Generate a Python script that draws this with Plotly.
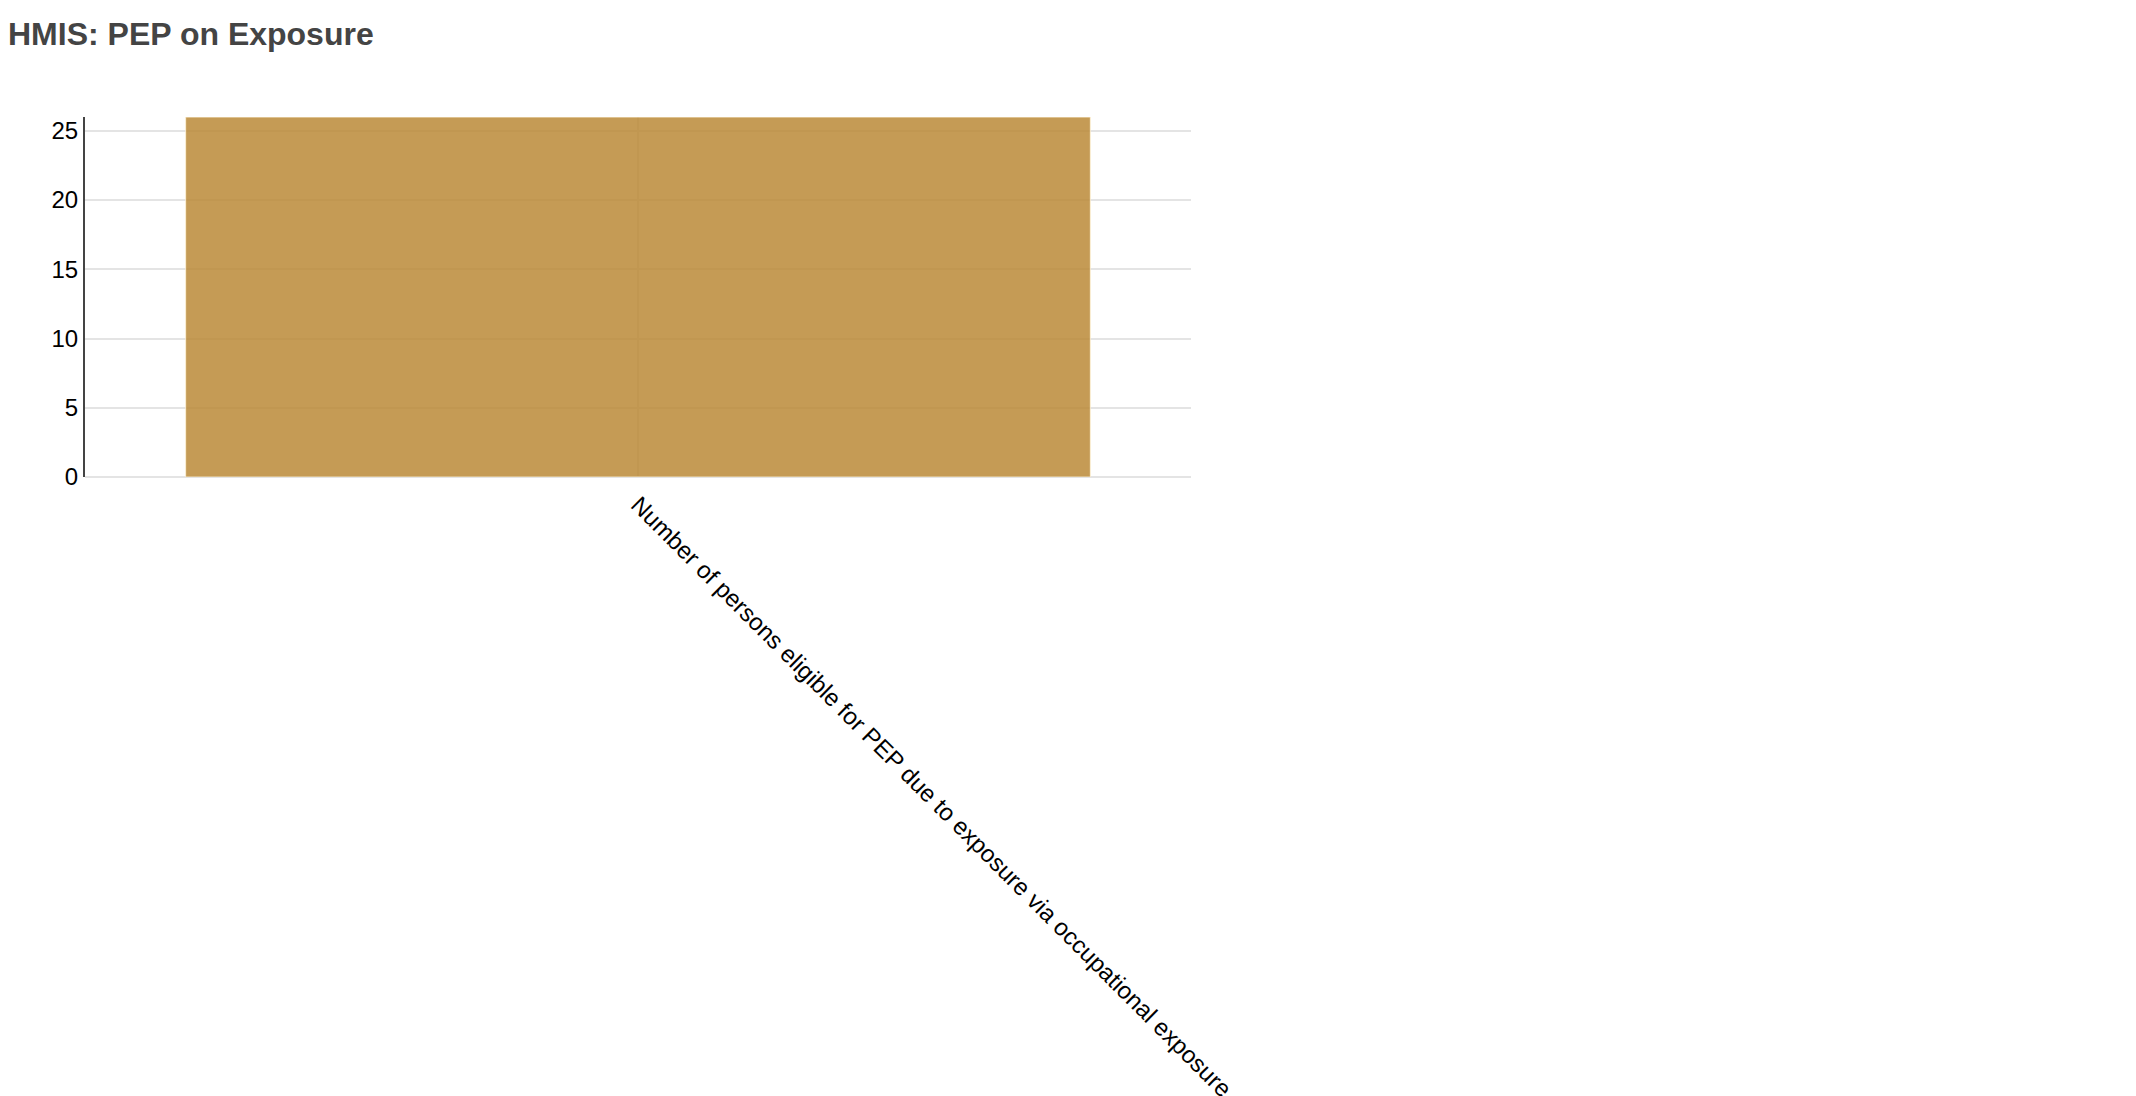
import plotly.graph_objects as go

categories = ["Number of persons eligible for PEP due to exposure via occupational exposure"]
values = [26]
y_ticks = [0, 5, 10, 15, 20, 25]
title_text = "HMIS: PEP on Exposure"

W, H = 2136, 1096
OFF = 8  # page body margin

fig = go.Figure()
fig.add_trace(go.Bar(
    x=categories,
    y=values,
    marker=dict(color="rgb(187,138,56)", line=dict(color="rgba(255,240,210,0.9)", width=1)),
    opacity=0.85,
    showlegend=False,
))

fig.update_layout(
    width=W, height=H,
    autosize=False,
    paper_bgcolor="white",
    plot_bgcolor="white",
    font=dict(family="Liberation Sans, Arial, sans-serif", size=24, color="black"),
    title=dict(
        text="<b>" + title_text + "</b>",
        x=0, xref="container", xanchor="left",
        y=1 - (34 - OFF) / H, yref="container", yanchor="middle",
        font=dict(size=32, color="#444"),
    ),
    margin=dict(l=85 - OFF, r=W - (1191 - OFF), t=117 - OFF, b=H - (477 - OFF), pad=0),
    bargap=0.182,
    xaxis=dict(
        tickangle=45,
        automargin=False,
        showgrid=True, gridcolor="#e4e4e4", gridwidth=2,
        showline=False, zeroline=False, ticks="",
        ticklabelstandoff=8,
        tickfont=dict(size=24, color="black"),
    ),
    yaxis=dict(
        range=[0, 26],
        automargin=False,
        tickvals=y_ticks,
        showgrid=True, gridcolor="#e4e4e4", gridwidth=2,
        zeroline=True, zerolinecolor="#e4e4e4", zerolinewidth=2,
        showline=True, linecolor="#444", linewidth=2,
        ticks="",
        tickfont=dict(size=24, color="black"),
    ),
)

fig.write_html("out.html")
